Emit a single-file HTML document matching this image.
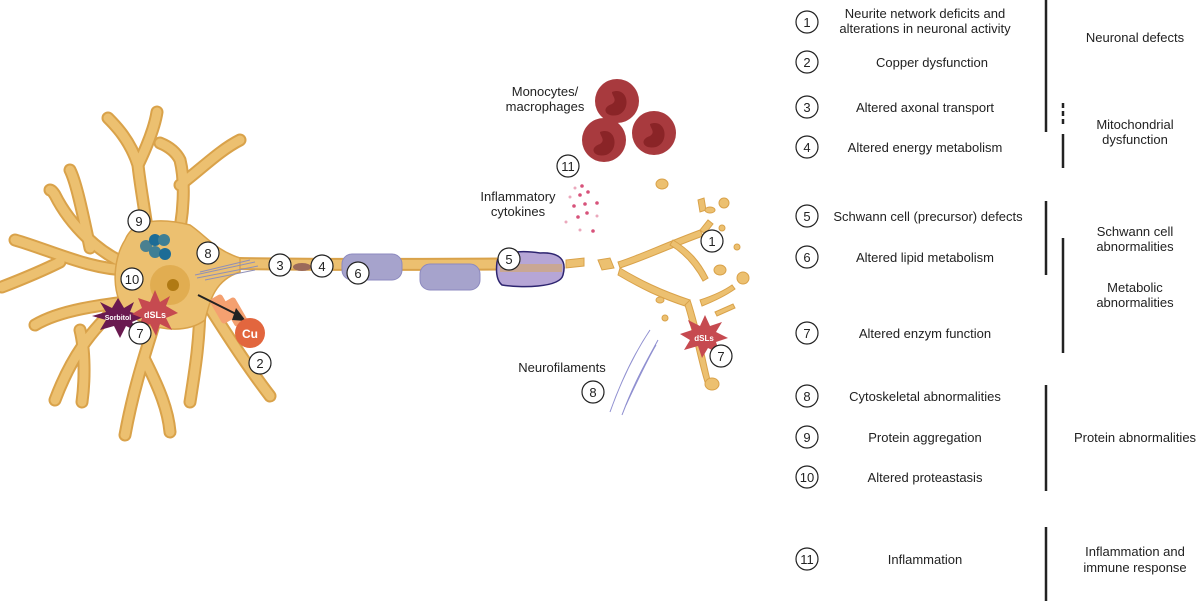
<!DOCTYPE html>
<html><head><meta charset="utf-8"><style>
html,body{margin:0;padding:0;background:#fff;}
svg{display:block;}
text{font-family:"Liberation Sans",sans-serif;fill:#222;}
</style></head><body>
<svg width="1200" height="601" viewBox="0 0 1200 601" xmlns="http://www.w3.org/2000/svg">
<defs>
<g id="nc"><circle r="11" fill="#fff" stroke="#222" stroke-width="1.2"/></g>
<g id="dend">
<path d="M150,250 C145,210 140,185 138,165 C130,140 115,125 108,118"/>
<path d="M138,165 C150,140 155,125 157,112"/>
<path d="M175,250 C185,215 185,180 180,160 C175,150 165,145 160,143"/>
<path d="M180,185 C200,170 220,150 240,140"/>
<path d="M130,265 C100,255 70,225 55,195 C52,190 50,190 50,190"/>
<path d="M90,248 C80,200 75,180 70,170"/>
<path d="M130,270 C90,270 50,250 15,240"/>
<path d="M60,262 C40,272 20,280 2,287"/>
<path d="M140,300 C100,305 60,310 35,325"/>
<path d="M120,305 C90,330 70,360 55,400"/>
<path d="M80,330 C85,350 85,380 82,402"/>
<path d="M160,305 C150,340 135,380 125,435"/>
<path d="M145,360 C160,390 168,410 170,432"/>
<path d="M200,300 C200,340 195,370 190,402"/>
<path d="M205,300 C230,340 250,370 270,396"/>
<path d="M190,262 C230,264 330,265 500,264"/>
</g>
</defs>
<g fill="none" stroke-linecap="round" stroke-linejoin="round">
<use href="#dend" stroke="#d9a24a" stroke-width="13"/>
<use href="#dend" stroke="#ecc070" stroke-width="9"/>
</g>
<path d="M125,240 C135,215 170,220 190,225 C205,235 215,250 240,258 L240,272 C215,280 210,300 205,320 C185,335 150,330 130,315 C110,300 112,260 125,240Z" fill="#ecc070" stroke="#d9a24a" stroke-width="1.5"/>
<path d="M130,245 C140,225 170,228 188,232 C200,245 215,255 238,262 L238,270 C212,278 205,300 200,318 C180,330 150,325 133,312 C118,298 120,262 130,245Z" fill="#ecc070"/>
<circle cx="170" cy="285" r="20" fill="#dfa84a" opacity="0.8"/>
<circle cx="173" cy="285" r="6" fill="#b07a14"/>
<circle cx="146" cy="246" r="6" fill="#4a8090"/><circle cx="155" cy="240" r="6" fill="#1d6c96"/><circle cx="164" cy="240" r="6" fill="#3f7f95"/><circle cx="155" cy="252" r="6" fill="#3f7f95"/><circle cx="165" cy="254" r="6" fill="#1d6c96"/>
<g stroke="#8f8fb8" stroke-width="1"><path d="M195,275 L255,262"/><path d="M197,278 L258,266"/><path d="M200,272 L250,260"/><path d="M205,280 L255,270"/></g>
<ellipse cx="302" cy="267" rx="9" ry="4" fill="#9b6a5a"/>
<g fill="#f4a070"><rect x="215" y="295" width="14" height="28" rx="3" transform="rotate(-30 222 309)"/><rect x="228" y="298" width="14" height="28" rx="3" transform="rotate(-30 235 312)"/></g>
<path d="M198,295 L240,316" stroke="#222" stroke-width="2"/><path d="M236,308 L246,321 L232,320Z" fill="#222"/>
<circle cx="250" cy="333" r="15" fill="#e2663e"/><text x="250" y="338" text-anchor="middle" font-size="12" font-weight="bold" style="fill:#fff">Cu</text>
<polygon points="118,298 124,308 134,302 130,312 146,316 132,322 138,332 126,326 120,338 114,326 100,330 106,320 92,316 106,312 100,302 112,308" fill="#6a1a50"/>
<text x="118" y="320" text-anchor="middle" font-size="7" font-weight="bold" style="fill:#fff">Sorbitol</text>
<polygon points="155,290 160,302 170,296 166,306 178,313 166,318 172,330 160,324 156,336 150,324 138,330 142,318 132,314 142,308 138,298 150,302" fill="#c64a50"/>
<text x="155" y="318" text-anchor="middle" font-size="9" font-weight="bold" style="fill:#fff">dSLs</text>
<rect x="342" y="254" width="60" height="26" rx="10" fill="#a6a3cc" stroke="#8c89bf"/>
<rect x="420" y="264" width="60" height="26" rx="10" fill="#a6a3cc" stroke="#8c89bf"/>
<path d="M497,262 C498,252 520,250 540,253 C560,252 567,260 563,275 C560,288 520,288 502,285 C496,280 496,270 497,262Z" fill="#b6a6d6" stroke="#2e2570" stroke-width="1.5"/>
<rect x="500" y="264" width="62" height="8" fill="#d2a878" opacity="0.7"/>
<g fill="#ecc070" stroke="#d9a24a" stroke-width="1">
<path d="M566,260 l18,-2 l0,8 l-18,2z"/><path d="M598,260 l12,-2 l4,10 l-12,2z"/><path d="M618,262 C640,255 660,245 700,230 l3,6 C665,250 645,260 620,268z"/>
<path d="M620,268 C640,280 660,290 690,300 l-2,7 C660,298 640,288 618,275z"/>
<path d="M700,230 l8,-10 l5,4 l-8,10z"/><path d="M700,212 l-2,-12 l6,-2 l2,12z"/><ellipse cx="662" cy="184" rx="6" ry="5"/>
<path d="M673,240 C690,250 700,262 708,278 l-5,3 C695,266 685,254 670,245z"/><ellipse cx="720" cy="270" rx="6" ry="5"/>
<ellipse cx="710" cy="210" rx="5" ry="3"/><ellipse cx="724" cy="203" rx="5" ry="5"/><ellipse cx="743" cy="278" rx="6" ry="6"/>
<path d="M690,300 C700,330 705,360 710,380 l-5,2 C698,360 693,330 685,305z"/><ellipse cx="712" cy="384" rx="7" ry="6"/>
<path d="M700,300 C715,295 725,290 732,285 l3,4 C725,296 712,302 702,306z"/>
<ellipse cx="660" cy="300" rx="4" ry="3"/><ellipse cx="665" cy="318" rx="3" ry="3"/>
<ellipse cx="722" cy="228" rx="3" ry="3"/><ellipse cx="737" cy="247" rx="3" ry="3"/><path d="M715,312 l18,-8 l2,4 l-18,8z"/>
</g>
<polygon points="705,315 710,326 722,322 716,332 728,338 716,342 720,354 708,348 702,358 698,346 684,350 690,340 680,334 692,330 688,320 700,326" fill="#c64a50"/>
<text x="704" y="341" text-anchor="middle" font-size="8" font-weight="bold" style="fill:#fff">dSLs</text>
<g stroke="#8f8fd0" stroke-width="1" fill="none"><path d="M610,412 C625,370 640,345 650,330"/><path d="M622,415 C635,380 650,355 658,340"/><path d="M626,405 C640,375 650,355 656,345"/></g>
<g fill="#a83a3e"><circle cx="617" cy="101" r="22"/><circle cx="604" cy="140" r="22"/><circle cx="654" cy="133" r="22"/></g>
<g fill="#8a2427"><path d="M612,92 C628,86 632,110 618,115 C606,118 600,108 612,104 C618,100 612,96 612,92Z"/><path d="M600,132 C616,126 620,150 606,155 C594,158 588,148 600,144 C606,140 600,136 600,132Z"/><path d="M650,124 C666,118 670,142 656,147 C644,150 638,140 650,136 C656,132 650,128 650,124Z"/></g>
<g fill="#d7527a"><circle cx="582" cy="186" r="1.8"/><circle cx="575" cy="188" r="1.5" opacity=".5"/><circle cx="580" cy="195" r="1.8"/><circle cx="588" cy="192" r="1.8"/><circle cx="570" cy="197" r="1.5" opacity=".5"/><circle cx="574" cy="206" r="1.8"/><circle cx="585" cy="204" r="1.8"/><circle cx="597" cy="203" r="1.8"/><circle cx="578" cy="217" r="1.8"/><circle cx="587" cy="213" r="1.8"/><circle cx="597" cy="216" r="1.5" opacity=".5"/><circle cx="566" cy="222" r="1.5" opacity=".5"/><circle cx="580" cy="230" r="1.5" opacity=".5"/><circle cx="593" cy="231" r="1.8"/></g>
<g font-size="13" text-anchor="middle">
<text x="545" y="96">Monocytes/</text><text x="545" y="111">macrophages</text>
<text x="518" y="201">Inflammatory</text><text x="518" y="216">cytokines</text>
<text x="562" y="372">Neurofilaments</text>
</g>
<g font-size="13" text-anchor="middle">
<g transform="translate(139,221)"><use href="#nc"/><text y="5">9</text></g>
<g transform="translate(208,253)"><use href="#nc"/><text y="5">8</text></g>
<g transform="translate(132,279)"><use href="#nc"/><text y="5">10</text></g>
<g transform="translate(140,333)"><use href="#nc"/><text y="5">7</text></g>
<g transform="translate(260,363)"><use href="#nc"/><text y="5">2</text></g>
<g transform="translate(280,265)"><use href="#nc"/><text y="5">3</text></g>
<g transform="translate(322,266)"><use href="#nc"/><text y="5">4</text></g>
<g transform="translate(358,273)"><use href="#nc"/><text y="5">6</text></g>
<g transform="translate(509,259)"><use href="#nc"/><text y="5">5</text></g>
<g transform="translate(568,166)"><use href="#nc"/><text y="5">11</text></g>
<g transform="translate(712,241)"><use href="#nc"/><text y="5">1</text></g>
<g transform="translate(721,356)"><use href="#nc"/><text y="5">7</text></g>
<g transform="translate(593,392)"><use href="#nc"/><text y="5">8</text></g>
</g>
<g font-size="13" text-anchor="middle">
<g transform="translate(807,22)"><use href="#nc"/><text y="5">1</text></g>
<g transform="translate(807,62)"><use href="#nc"/><text y="5">2</text></g>
<g transform="translate(807,107)"><use href="#nc"/><text y="5">3</text></g>
<g transform="translate(807,147)"><use href="#nc"/><text y="5">4</text></g>
<g transform="translate(807,216)"><use href="#nc"/><text y="5">5</text></g>
<g transform="translate(807,257)"><use href="#nc"/><text y="5">6</text></g>
<g transform="translate(807,333)"><use href="#nc"/><text y="5">7</text></g>
<g transform="translate(807,396)"><use href="#nc"/><text y="5">8</text></g>
<g transform="translate(807,437)"><use href="#nc"/><text y="5">9</text></g>
<g transform="translate(807,477)"><use href="#nc"/><text y="5">10</text></g>
<g transform="translate(807,559)"><use href="#nc"/><text y="5">11</text></g>
<text x="925" y="18">Neurite network deficits and</text><text x="925" y="33">alterations in neuronal activity</text>
<text x="932" y="67">Copper dysfunction</text>
<text x="925" y="112">Altered axonal transport</text>
<text x="925" y="152">Altered energy metabolism</text>
<text x="928" y="221">Schwann cell (precursor) defects</text>
<text x="925" y="262">Altered lipid metabolism</text>
<text x="925" y="338">Altered enzym function</text>
<text x="925" y="401">Cytoskeletal abnormalities</text>
<text x="925" y="442">Protein aggregation</text>
<text x="925" y="482">Altered proteastasis</text>
<text x="925" y="564">Inflammation</text>
<text x="1135" y="42">Neuronal defects</text>
<text x="1135" y="129">Mitochondrial</text><text x="1135" y="144">dysfunction</text>
<text x="1135" y="236">Schwann cell</text><text x="1135" y="251">abnormalities</text>
<text x="1135" y="292">Metabolic</text><text x="1135" y="307">abnormalities</text>
<text x="1135" y="442">Protein abnormalities</text>
<text x="1135" y="556">Inflammation and</text><text x="1135" y="572">immune response</text>
</g>
<g stroke="#222" stroke-width="2.5">
<line x1="1046" y1="0" x2="1046" y2="132"/>
<line x1="1063" y1="103" x2="1063" y2="127" stroke-dasharray="5,3"/>
<line x1="1063" y1="134" x2="1063" y2="168"/>
<line x1="1046" y1="201" x2="1046" y2="275"/>
<line x1="1063" y1="238" x2="1063" y2="353"/>
<line x1="1046" y1="385" x2="1046" y2="491"/>
<line x1="1046" y1="527" x2="1046" y2="601"/>
</g>
</svg>
</body></html>
